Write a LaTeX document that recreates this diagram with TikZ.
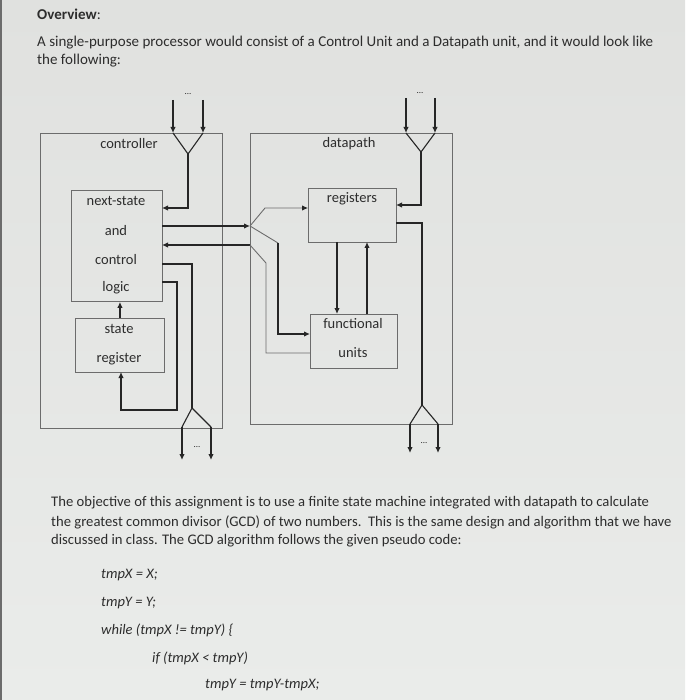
\documentclass[tikz,border=0pt]{standalone}
\usepackage{fontspec}
\setmainfont{Carlito}
\usetikzlibrary{arrows.meta}
\definecolor{bgtop}{RGB}{224,225,223}
\definecolor{bgbot}{RGB}{234,236,234}
\definecolor{ink}{RGB}{38,38,38}
\definecolor{txt}{RGB}{45,45,45}
\definecolor{frame}{RGB}{108,108,108}
\begin{document}
\begin{tikzpicture}[x=1pt,y=-1pt,
  box/.style={draw=frame,line width=0.9pt,inner sep=0pt,anchor=north west},
  thk/.style={draw=ink,line width=1.6pt},
  thn/.style={draw=frame,line width=0.9pt},
  yarm/.style={draw=ink,line width=1.1pt,line join=miter},
  arr/.style={-{Latex[length=6pt,width=5.5pt,color=ink]}},
  lbl/.style={font=\fontsize{14.5}{16}\selectfont,text=txt,inner sep=0pt},
  para/.style={font=\fontsize{15}{18}\selectfont,text=txt,inner sep=0pt,anchor=west},
  parb/.style={font=\fontsize{14.65}{18}\selectfont,text=txt,inner sep=0pt,anchor=west},
  code/.style={font=\fontsize{14.5}{18}\selectfont\itshape,text=txt,inner sep=0pt,anchor=west},
  dots/.style={font=\fontsize{9}{9}\selectfont,text=ink,inner sep=0pt}]

% background
\fill[top color=bgtop,bottom color=bgbot] (0,0) rectangle (685,700);
\useasboundingbox (0,0) rectangle (685,700);
\coordinate (edgeT) at (1,0);
\coordinate (edgeB) at (1,700);
\draw[frame,line width=1.4pt] (edgeT) -- (edgeB);

% top text
\node[para] (ov) at (37,14) {\textbf{Overview}:};
\node[para] (p1) at (37,43) {A single-purpose processor would consist of a Control Unit and a Datapath unit, and it would look like};
\node[para] (p2) at (37,61) {the following:};

% ---------- controller ----------
\node[box,minimum width=182pt,minimum height=295pt] (ctrl) at (40,133) {};
\node[lbl] (ctrlL) at (129,144) {controller};
\node[box,minimum width=91pt,minimum height=111pt] (nsl) at (71,190) {};
\node[lbl] (nslA) at (116,201) {next-state};
\node[lbl] (nslB) at (116,231) {and};
\node[lbl] (nslC) at (116,260) {control};
\node[lbl] (nslD) at (116,288) {logic};
\node[box,minimum width=89pt,minimum height=54pt] (sreg) at (75,318) {};
\node[lbl] (sregA) at (119,329) {state};
\node[lbl] (sregB) at (119,359) {register};

% controller inputs
\coordinate (ci1) at (173,100);
\coordinate (ci2) at (203,100);
\coordinate (ca1) at (173,133);
\coordinate (ca2) at (203,133);
\coordinate (cy) at (188,154);
\coordinate (cyk) at (188,208);
\coordinate (nsIn) at (162,208);
\draw[thk,arr] (ci1) -- (ca1);
\draw[thk,arr] (ci2) -- (ca2);
\draw[yarm] (ca1) -- (cy) -- (ca2);
\draw[thk,arr] (cy) -- (cyk) -- (nsIn);
\node[dots] (cdots) at (188,94) {...};

% state register -> next-state logic
\draw[thk,arr] (sreg.north) -- (sreg.north |- nsl.south);

% controller <-> datapath
\coordinate (nsOut) at (162,226);
\coordinate (fan) at (250,226);
\coordinate (stIn) at (162,245);
\coordinate (stSrc) at (250,245);
\draw[thk,arr] (nsOut) -- (fan);
\draw[thk,arr] (stSrc) -- (stIn);

% loop to state register
\coordinate (nsO3) at (162,282);
\coordinate (l1) at (177,282);
\coordinate (l2) at (177,410);
\coordinate (l3) at (121,410);
\coordinate (srIn) at (121,372);
\draw[thk,arr] (nsO3) -- (l1) -- (l2) -- (l3) -- (srIn);

% controller outputs
\coordinate (nsO2) at (162,264);
\coordinate (co1) at (192,264);
\coordinate (coy) at (192,408);
\coordinate (cb1) at (182,427);
\coordinate (cb2) at (211,427);
\coordinate (cd1) at (182,460);
\coordinate (cd2) at (211,460);
\draw[thk] (nsO2) -- (co1) -- (coy);
\draw[yarm] (cb1) -- (coy) -- (cb2);
\draw[thk,arr] (cb1) -- (cd1);
\draw[thk,arr] (cb2) -- (cd2);
\node[dots] (cdots2) at (197,447) {...};

% ---------- datapath ----------
\node[box,minimum width=202pt,minimum height=291pt] (dp) at (250,133) {};
\node[lbl] (dpL) at (349,144) {datapath};
\node[box,minimum width=88pt,minimum height=54pt] (reg) at (308,188) {};
\node[lbl] (regL) at (352,199) {registers};
\node[box,minimum width=87pt,minimum height=54pt] (fu) at (310,314) {};
\node[lbl] (fuA) at (353,324) {functional};
\node[lbl] (fuB) at (353,353) {units};

% fan-out of control signals
\coordinate (f1) at (265,208);
\coordinate (regIn) at (308,208);
\coordinate (f2) at (278,243);
\coordinate (f2b) at (278,334);
\coordinate (fuIn1) at (310,334);
\coordinate (s1) at (266,263);
\coordinate (s1b) at (266,353);
\coordinate (fuOut) at (310,353);
\draw[thn,arr] (fan) -- (f1) -- (regIn);
\draw[thn] (fan) -- (f2);
\draw[thk,arr] (f2) -- (f2b) -- (fuIn1);
\draw[thn] (fuOut) -- (s1b) -- (s1) -- (stSrc);

% datapath inputs
\coordinate (di1) at (406,98);
\coordinate (di2) at (435,98);
\coordinate (da1) at (406,133);
\coordinate (da2) at (435,133);
\coordinate (dy) at (421,152);
\coordinate (dyk) at (421,205);
\coordinate (regIn2) at (396,205);
\draw[thk,arr] (di1) -- (da1);
\draw[thk,arr] (di2) -- (da2);
\draw[yarm] (da1) -- (dy) -- (da2);
\draw[thk,arr] (dy) -- (dyk) -- (regIn2);
\node[dots] (ddots) at (420,93) {...};

% registers <-> functional units
\coordinate (rb1) at (337,242);
\coordinate (fa1) at (337,314);
\coordinate (fa2) at (367,314);
\coordinate (rb2) at (367,242);
\draw[thk,arr] (rb1) -- (fa1);
\draw[thk,arr] (fa2) -- (rb2);

% datapath outputs
\coordinate (rO) at (396,223);
\coordinate (r1) at (422,223);
\coordinate (ry) at (422,405);
\coordinate (db1) at (410,424);
\coordinate (db2) at (438,424);
\coordinate (dd1) at (410,453);
\coordinate (dd2) at (438,453);
\draw[thk] (rO) -- (r1) -- (ry);
\draw[yarm] (db1) -- (ry) -- (db2);
\draw[thk,arr] (db1) -- (dd1);
\draw[thk,arr] (db2) -- (dd2);
\node[dots] (ddots2) at (424,443) {...};

% bottom text
\node[parb] (q1) at (51,503) {The objective of this assignment is to use a finite state machine integrated with datapath to calculate};
\node[parb] (q2) at (51,522) {the greatest common divisor (GCD) of two numbers.\ \ This is the same design and algorithm that we have};
\node[parb] (q3) at (51,541) {discussed in class. The GCD algorithm follows the given pseudo code:};
\node[code] (c1) at (101,575) {tmpX = X;};
\node[code] (c2) at (101,603) {tmpY = Y;};
\node[code] (c3) at (101,630) {while (tmpX != tmpY) \{};
\node[code] (c4) at (152,658) {if (tmpX < tmpY)};
\node[code] (c5) at (205,685) {tmpY = tmpY-tmpX;};
\end{tikzpicture}
\end{document}
